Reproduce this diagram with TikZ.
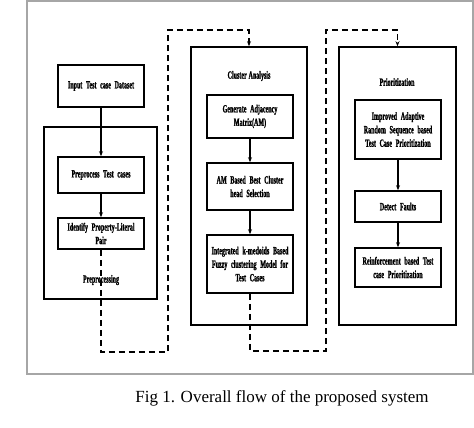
\documentclass[tikz,border=0pt]{standalone}
\usepackage{fontspec}
\setmainfont{Liberation Serif}
\newfontfamily\boxfont[FakeStretch=0.55,FakeBold=1.2]{Liberation Serif}
\newcommand\stagefont{\boxfont\bfseries\fontsize{11}{13.5}\selectfont\spaceskip=1.8pt plus 1pt\relax}
\usetikzlibrary{arrows.meta}

\begin{document}
\begin{tikzpicture}[x=1pt,y=-1pt,
    stage/.style={draw, line width=1.6pt, minimum width=86pt, inner sep=0pt,
      text width=84pt, align=center, font=\stagefont},
    group/.style={draw, line width=1.6pt, inner sep=0pt},
    title/.style={font=\stagefont},
    flow/.style={line width=1.2pt, -{Stealth[length=5pt,width=4pt]}},
    jump/.style={line width=1.3pt, dash pattern=on 6pt off 4pt, -{Stealth[length=5pt,width=4pt]}}]
    \useasboundingbox (0,0) rectangle (474,428);
    % Draw the frame
    \draw[gray!70, line width=1.5pt] (27,1) rectangle (473,374);

    % Preprocessing column
    \node[stage, minimum height=42pt] (input) at (101,86) {Input Test case Dataset};
    \node[group, minimum width=113pt, minimum height=172pt] (prep) at (100.5,213) {};
    \node[stage, minimum height=36pt] (clean) at (101,175) {Preprocess Test cases};
    \node[stage, minimum height=31pt] (pair) at (101,233.5) {Identify Property-Literal\\ Pair};
    \node[title] (preptitle) at (101,280) {Preprocessing};
    \draw[flow] (input) -- (clean);
    \draw[flow] (clean) -- (pair);

    % Cluster Analysis column
    \node[group, minimum width=116pt, minimum height=278pt] (clus) at (249,186) {};
    \node[title] (clustitle) at (249,76) {Cluster Analysis};
    \node[stage, minimum height=43pt] (adj) at (250,116.5) {Generate Adjacency\\ Matrix(AM)};
    \node[stage, minimum height=47pt] (head) at (250,186.5) {AM Based Best Cluster\\ head Selection};
    \node[stage, minimum height=58pt] (fuzzy) at (250,264) {Integrated k-medoids Based\\ Fuzzy clustering Model for\\ Test Cases};
    \draw[flow] (adj) -- (head);
    \draw[flow] (head) -- (fuzzy);

    % Prioritization column
    \node[group, minimum width=117pt, minimum height=278pt] (prio) at (397.5,186) {};
    \node[title] (priotitle) at (397,82) {Prioritization};
    \node[stage, minimum height=59pt] (arsp) at (398,129.5) {Improved Adaptive\\ Random Sequence based\\ Test Case Prioritization};
    \node[stage, minimum height=31pt] (faults) at (398,206.5) {Detect Faults};
    \node[stage, minimum height=39pt] (rl) at (398,267.5) {Reinforcement based Test\\ case Prioritization};
    \draw[flow] (arsp) -- (faults);
    \draw[flow] (faults) -- (rl);

    % dashed links between the columns
    \coordinate (a1) at (168,352);
    \coordinate (a2) at (168,30);
    \coordinate (b1) at (326,351);
    \coordinate (b2) at (326,30);
    \draw[jump] (pair.south) |- (a1) -- (a2) -| (clus.north);
    \draw[jump] (fuzzy.south) |- (b1) -- (b2) -| (prio.north);

    \node[font=\fontsize{17}{20}\selectfont] (caption) at (282,398) {Fig 1. Overall flow of the proposed system};
\end{tikzpicture}
\end{document}
